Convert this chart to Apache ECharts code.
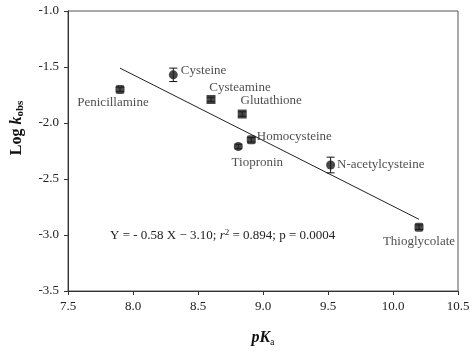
<!DOCTYPE html>
<html>
<head>
<meta charset="utf-8">
<script src="https://cdn.jsdelivr.net/npm/echarts@6/dist/echarts.min.js"></script>
<style>
  html, body { margin: 0; padding: 0; background: #fff; }
  #chart { width: 474px; height: 353px; }
</style>
</head>
<body>
<div id="chart"></div>
<script>
// thiols: pKa vs log k_obs
var names = ['Penicillamine', 'Cysteine', 'Cysteamine', 'Glutathione', 'Homocysteine', 'Tiopronin', 'N-acetylcysteine', 'Thioglycolate'];
var pKa = [7.90, 8.31, 8.60, 8.84, 8.91, 8.81, 9.52, 10.20];
var logK = [-1.70, -1.57, -1.79, -1.92, -2.15, -2.21, -2.375, -2.93];
var errK = [0.02, 0.06, 0.02, 0.02, 0.02, 0.02, 0.07, 0.02];

// regression line end points
var fitX = [7.90, 10.20];
var fitY = [-1.51, -2.86];

var xTicks = [7.5, 8.0, 8.5, 9.0, 9.5, 10.0, 10.5];
var yTicks = [-3.5, -3.0, -2.5, -2.0, -1.5, -1.0];

// how each point is drawn and where its name sits
var symbols = ['roundRect', 'circle', 'rect', 'rect', 'roundRect', 'circle', 'circle', 'roundRect'];
var labelPlace = [
  { position: 'bottom', offset: [-7, -1] },
  { position: 'right', offset: [0, -4] },
  { position: 'top', offset: [29, 2] },
  { position: 'top', offset: [29, 1] },
  { position: 'right', offset: [-2, -3] },
  { position: 'bottom', offset: [19, 2] },
  { position: 'right', offset: [-1, 0] },
  { position: 'bottom', offset: [0, 0] }
];

var serif = '"Liberation Serif", "DejaVu Serif", serif';

var pts = names.map(function (n, i) {
  return {
    name: n,
    value: [pKa[i], logK[i]],
    symbol: symbols[i],
    label: {
      show: true,
      formatter: n,
      position: labelPlace[i].position,
      offset: labelPlace[i].offset,
      distance: 3,
      color: '#222',
      fontFamily: serif,
      fontSize: 13
    }
  };
});

var errData = names.map(function (n, i) {
  return [pKa[i], logK[i] - errK[i], logK[i] + errK[i]];
});

var chart = echarts.init(document.getElementById('chart'));
var option = {
  animation: false,
  backgroundColor: '#fff',
  grid: { left: 68, top: 11, right: 16, bottom: 62 },
  xAxis: {
    type: 'value',
    min: 7.5, max: 10.5, interval: 0.5,
    name: '{i|pK}{s|a}',
    nameLocation: 'middle',
    nameGap: 38,
    nameTextStyle: {
      rich: {
        i: { fontFamily: serif, fontSize: 16, fontWeight: 'bold', fontStyle: 'italic', color: '#111' },
        s: { fontFamily: serif, fontSize: 10, color: '#111', verticalAlign: 'bottom', padding: [8, 0, 0, 0] }
      }
    },
    axisLine: { lineStyle: { color: '#333', width: 1 } },
    axisTick: { show: true, inside: false, length: 4, lineStyle: { color: '#333' } },
    axisLabel: {
      fontFamily: serif, fontSize: 13, color: '#222', margin: 9,
      formatter: function (v) { return v.toFixed(1); }
    },
    splitLine: { show: false }
  },
  yAxis: {
    type: 'value',
    min: -3.5, max: -1.0, interval: 0.5,
    name: '{b|Log }{i|k}{s|obs}',
    nameLocation: 'middle',
    nameGap: 42,
    nameRotate: 90,
    nameTextStyle: {
      padding: [0, 0, 0, 46],
      rich: {
        b: { fontFamily: serif, fontSize: 16, fontWeight: 'bold', color: '#111' },
        i: { fontFamily: serif, fontSize: 16, fontWeight: 'bold', fontStyle: 'italic', color: '#111' },
        s: { fontFamily: serif, fontSize: 11, fontWeight: 'bold', color: '#111', verticalAlign: 'bottom', padding: [8, 0, 0, 0] }
      }
    },
    axisLine: { lineStyle: { color: '#333', width: 1 } },
    axisTick: { show: true, inside: false, length: 4, lineStyle: { color: '#333' } },
    axisLabel: {
      fontFamily: serif, fontSize: 13, color: '#222', margin: 9,
      formatter: function (v) { return v.toFixed(1); }
    },
    splitLine: { show: false }
  },
  graphic: [
    {
      type: 'rect',
      shape: { x: 68, y: 11, width: 390, height: 280 },
      style: { fill: 'none', stroke: '#555', lineWidth: 1 },
      silent: true
    },
    {
      type: 'text',
      left: 110, top: 228,
      style: {
        text: '{n|Y = - 0.58 X \u2212 3.10; }{it|r}{sup|2}{n| = 0.894; p = 0.0004}',
        rich: {
          n: { fontFamily: serif, fontSize: 13, fill: '#222' },
          it: { fontFamily: serif, fontSize: 13, fontStyle: 'italic', fill: '#222' },
          sup: { fontFamily: serif, fontSize: 9, fill: '#222', verticalAlign: 'top', padding: [0, 0, 6, 0] }
        }
      }
    }
  ],
  series: [
    {
      type: 'line',
      data: fitX.map(function (x, i) { return [x, fitY[i]]; }),
      symbol: 'none',
      lineStyle: { color: '#222', width: 1 },
      z: 1
    },
    {
      type: 'custom',
      data: errData,
      renderItem: function (params, api) {
        var lo = api.coord([api.value(0), api.value(1)]);
        var hi = api.coord([api.value(0), api.value(2)]);
        var w = 4;
        return {
          type: 'group',
          children: [
            { type: 'line', shape: { x1: lo[0], y1: lo[1], x2: hi[0], y2: hi[1] }, style: { stroke: '#111', lineWidth: 1 } },
            { type: 'line', shape: { x1: lo[0] - w, y1: lo[1], x2: lo[0] + w, y2: lo[1] }, style: { stroke: '#111', lineWidth: 1 } },
            { type: 'line', shape: { x1: hi[0] - w, y1: hi[1], x2: hi[0] + w, y2: hi[1] }, style: { stroke: '#111', lineWidth: 1 } }
          ]
        };
      },
      z: 2
    },
    {
      type: 'scatter',
      data: pts,
      symbolSize: 9,
      itemStyle: { color: '#1a1a1a' },
      z: 3
    }
  ]
};
chart.setOption(option);
</script>
</body>
</html>
